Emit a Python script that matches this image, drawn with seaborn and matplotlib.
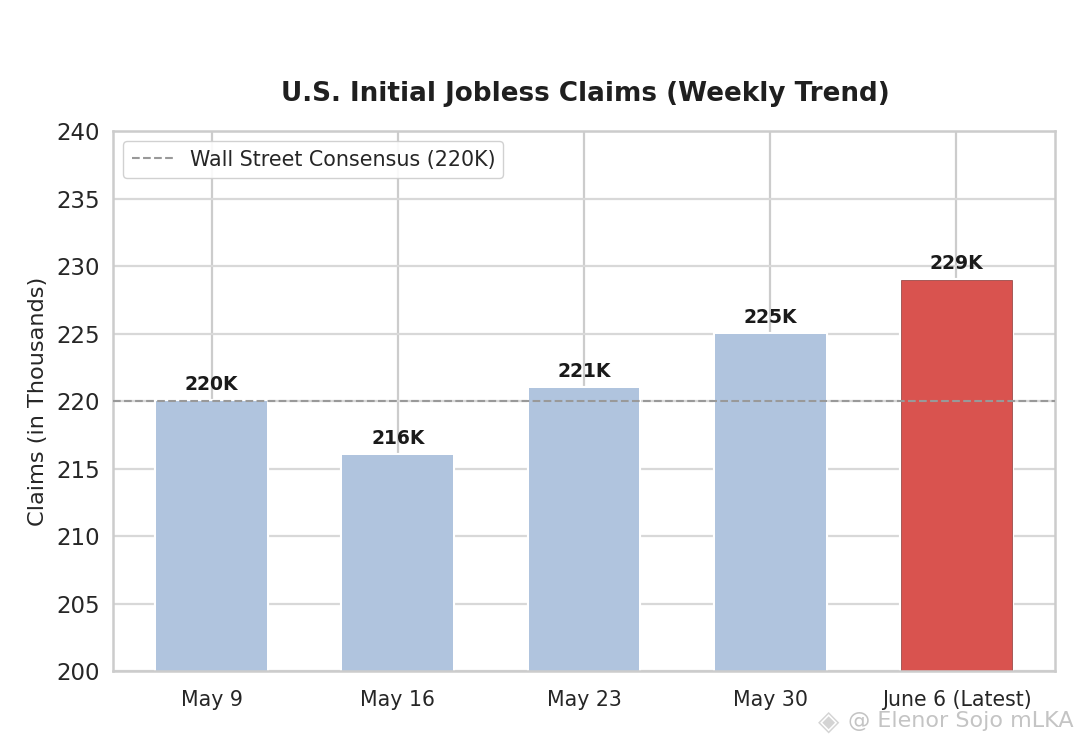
import matplotlib
matplotlib.use("Agg")
import matplotlib.pyplot as plt
import matplotlib.patheffects as pe
import seaborn as sns
import pandas as pd

weeks = ["May 9", "May 16", "May 23", "May 30", "June 6 (Latest)"]
claims = [220, 216, 221, 225, 229]
labels = ["220K", "216K", "221K", "225K", "229K"]
colors = ["#b0c4de", "#b0c4de", "#b0c4de", "#b0c4de", "#d9534f"]
consensus = 220
yticks = [200, 205, 210, 215, 220, 225, 230, 235, 240]

sns.set_theme(style="whitegrid")
plt.rcParams["font.family"] = ["DejaVu Sans"]
df = pd.DataFrame({"week": weeks, "claims": claims})

fig, ax = plt.subplots(figsize=(10.8, 7.46), dpi=100)
sns.barplot(data=df, x="week", y="claims", hue="week", palette=colors, legend=False,
            width=0.595, ax=ax, zorder=2, linewidth=0, saturation=1)
halo = [pe.Stroke(linewidth=3, foreground="white"), pe.Normal()]
for p in ax.patches[:5]:
    p.set_path_effects(halo)
ax.patches[4].set_edgecolor("#8a3a38")
ax.patches[4].set_linewidth(0.5)
ax.axhline(consensus, color="#999999", ls="--", lw=1.5, zorder=3, label="Wall Street Consensus (220K)")
ax.set_ylim(200, 240)
ax.set_yticks(yticks)
ax.set_xlim(-0.53, 4.53)
ax.xaxis.grid(True, color="#cccccc", lw=1.6, zorder=0)
ax.yaxis.grid(True, color="#d8d8d8", lw=1.6, zorder=0)
ax.set_axisbelow(True)
for s in ax.spines.values():
    s.set_color("#cccccc")
    s.set_linewidth(1.8)
for i, (v, t) in enumerate(zip(claims, labels)):
    ax.text(i, v + 0.5, t, ha="center", va="bottom", fontsize=13.5, fontweight="bold", color="#1a1a1a", zorder=4)
ax.set_xlabel("")
ax.set_ylabel("Claims (in Thousands)", fontsize=16.2, color="#262626", labelpad=6)
ax.tick_params(axis="y", labelsize=16.5, labelcolor="#262626")
ax.tick_params(axis="x", labelsize=14.8, labelcolor="#262626", pad=8)
ax.legend(loc="upper left", fontsize=14.9, frameon=True, edgecolor="#cccccc", facecolor="white", framealpha=0.9)
fig.text(0.5417, 0.8745, "U.S. Initial Jobless Claims (Weekly Trend)", ha="center", va="center",
         fontsize=18.9, fontweight="bold", color="#1f1f1f")
fig.text(0.994, 0.033, "@ Elenor Sojo mLKA", ha="right", va="center", fontsize=16, color="#c4c4c4")
fig.text(0.767, 0.033, "\u25c8", ha="center", va="center", fontsize=20, color="#d4d4d4")
fig.subplots_adjust(left=0.1046, right=0.977, top=0.8244, bottom=0.1005)
fig.savefig("out.png", dpi=100)
